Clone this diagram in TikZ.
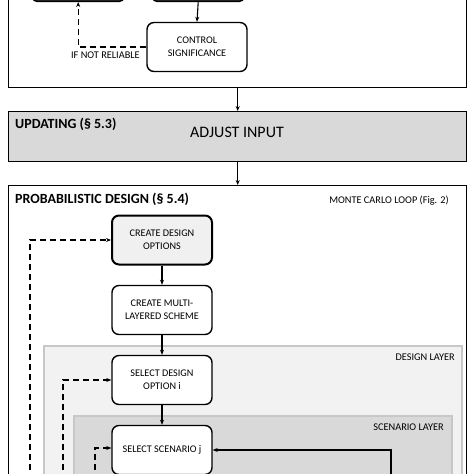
\documentclass[tikz,border=0pt]{standalone}
\usepackage{fontspec}
\setmainfont{Carlito}
\usetikzlibrary{positioning,arrows.meta}

\tikzset{
  actbox/.style={draw, rounded corners=7pt, line width=1.4pt, fill=white,
    minimum width=100pt, minimum height=49pt, align=center,
    font=\fontsize{10.2}{13}\selectfont},
  darkbox/.style={draw, rounded corners=4pt, line width=1.4pt, fill=black!78,
    minimum width=91pt, minimum height=30pt, anchor=south west},
  panel/.style={draw, line width=1.4pt, anchor=north west, inner sep=0pt},
  layer/.style={draw=black!22, line width=1.5pt, anchor=north west, inner sep=0pt},
  head/.style={font=\fontsize{14}{16}\selectfont\bfseries, inner sep=0pt},
  tag/.style={font=\fontsize{10.3}{12}\selectfont, inner sep=0pt},
  flow/.style={-{Stealth[length=5pt,width=4pt]}, line width=1.1pt},
  back/.style={flow, dash pattern=on 6pt off 4pt},
}

\begin{document}
\begin{tikzpicture}[x=1pt,y=-1pt]
  \useasboundingbox (0,0) rectangle (474,474);

  % check block
  \node[panel, minimum width=458pt, minimum height=120pt] (check) at (8,-33) {};
  \node[darkbox] (model) at (32,2) {};
  \node[darkbox] (data) at (152,2) {};
  \node[actbox] (ctrl) at (197,47) {CONTROL\\SIGNIFICANCE};
  \draw[flow] (data.south) -- (ctrl.north);
  \draw[back] (ctrl.west) -| node[tag, pos=0.3, below=4pt] {IF NOT RELIABLE} (model.south);

  % updating
  \node[panel, fill=black!15, minimum width=458pt, minimum height=50pt] (upd) at (8,111) {};
  \draw[flow] (check.south) -- (upd.north);
  \node[head, anchor=west] (updhead) at (15,124) {UPDATING (\S\ 5.3)};
  \node[font=\fontsize{16}{18}\selectfont] (adjust) at (237,132) {ADJUST INPUT};

  % probabilistic design
  \node[panel, minimum width=458pt, minimum height=320pt] (prob) at (8,185) {};
  \draw[flow] (upd.south) -- (prob.north);
  \node[head, anchor=west] (probhead) at (15,199) {PROBABILISTIC DESIGN (\S\ 5.4)};
  \node[tag, anchor=east] (mcloop) at (449,201) {MONTE CARLO LOOP (Fig. 2)};

  \node[layer, fill=black!5, minimum width=418pt, minimum height=200pt] (dlayer) at (43,345) {};
  \node[tag, anchor=east] (dlabel) at (455,357) {DESIGN LAYER};
  \node[layer, fill=black!15, minimum width=378pt, minimum height=200pt] (slayer) at (73,415) {};
  \node[tag, anchor=east] (slabel) at (444,427) {SCENARIO LAYER};

  \node[actbox, fill=black!6, line width=2pt] (options) at (162,240) {CREATE DESIGN\\OPTIONS};
  \node[actbox] (scheme) at (162,310) {CREATE MULTI-\\LAYERED SCHEME};
  \node[actbox] (option) at (162,380) {SELECT DESIGN\\OPTION i};
  \node[actbox] (scenario) at (162,450) {SELECT SCENARIO j};

  \draw[flow] (options) -- (scheme);
  \draw[flow] (scheme) -- (option);
  \draw[flow] (option) -- (scenario);

  % loops
  \coordinate (loopR) at (391,500);
  \coordinate (backA) at (30,500);
  \coordinate (backB) at (63,500);
  \coordinate (backC) at (95,500);
  \draw[flow] (loopR) |- (scenario.east);
  \draw[back] (backA) |- (options.west);
  \draw[back] (backB) |- (option.west);
  \draw[back] (backC) |- ([yshift=2pt]scenario.west);
\end{tikzpicture}
\end{document}
